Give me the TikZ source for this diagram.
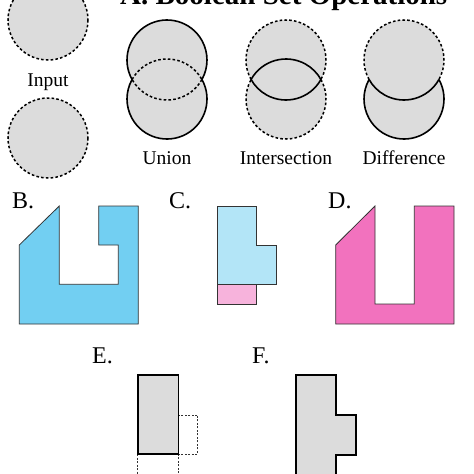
\documentclass[tikz,border=0pt]{standalone}
\usepackage{fontspec}
\setmainfont{Liberation Serif}
\definecolor{cgray}{HTML}{DCDCDC}
\definecolor{bblue}{HTML}{72CFF2}
\definecolor{lblue}{HTML}{B3E5F7}
\definecolor{lpink}{HTML}{F7B3DC}
\definecolor{dpink}{HTML}{F272BE}
\definecolor{edge}{HTML}{333333}
\begin{document}
\begin{tikzpicture}[x=1pt,y=-1pt,
  solidline/.style={line width=1.6pt,black},
  dashline/.style={line width=1.5pt,black,dash pattern=on 2.6pt off 2.2pt},
  lbl/.style={font=\fontsize{19.5}{20}\selectfont,anchor=base},
  letter/.style={font=\fontsize{24}{26}\selectfont,anchor=base west,inner sep=0pt},
  shapeB/.style={draw=edge,line width=0.8pt,fill=bblue},
  thick2/.style={draw=black,line width=1.6pt,fill=cgray},
  dbox/.style={draw=black!80,line width=0.9pt,dash pattern=on 2pt off 1.5pt}]
\useasboundingbox (0,0) rectangle (474,474);
\fill[white] (0,0) rectangle (474,474);
% title (cut off at top, as in the reference)
\node[font=\bfseries\fontsize{29}{30}\selectfont,anchor=base west,inner sep=0pt] (title) at (120,4) {A. Boolean Set Operations};
% inputs
\fill[cgray] (48,20) circle (40);
\draw[dashline] (48,20) circle (40);
\node[lbl] (input) at (48,86) {Input};
\fill[cgray] (48,138) circle (40);
\draw[dashline] (48,138) circle (40);
% union
\fill[cgray] (167,60) circle (40) (167,99) circle (40);
\draw[solidline] (167,60) ++(150.8:40) arc[start angle=150.8,end angle=389.2,radius=40];
\draw[solidline] (167,99) ++(-29.2:40) arc[start angle=-29.2,end angle=209.2,radius=40];
\draw[dashline] (167,60) ++(29.2:40) arc[start angle=29.2,end angle=150.8,radius=40];
\draw[dashline] (167,99) ++(209.2:40) arc[start angle=209.2,end angle=330.8,radius=40];
\node[lbl] (union) at (167,164) {Union};
% intersection
\fill[cgray] (286,60) circle (40) (286,99) circle (40);
\draw[dashline] (286,60) ++(150.8:40) arc[start angle=150.8,end angle=389.2,radius=40];
\draw[dashline] (286,99) ++(-29.2:40) arc[start angle=-29.2,end angle=209.2,radius=40];
\draw[solidline] (286,60) ++(29.2:40) arc[start angle=29.2,end angle=150.8,radius=40];
\draw[solidline] (286,99) ++(209.2:40) arc[start angle=209.2,end angle=330.8,radius=40];
\node[lbl] (inter) at (286,164) {Intersection};
% difference
\fill[cgray] (404,60) circle (40) (404,99) circle (40);
\draw[dashline] (404,60) ++(150.8:40) arc[start angle=150.8,end angle=389.2,radius=40];
\draw[solidline] (404,60) ++(29.2:40) arc[start angle=29.2,end angle=150.8,radius=40];
\draw[solidline] (404,99) ++(-29.2:40) arc[start angle=-29.2,end angle=209.2,radius=40];
\node[lbl] (diff) at (404,164) {Difference};
% letters
\node[letter] (B) at (12,208) {B.};
\node[letter] (C) at (169,208) {C.};
\node[letter] (D) at (328,208) {D.};
\node[letter] (E) at (92,363) {E.};
\node[letter] (F) at (252,363) {F.};
% shape B
\draw[shapeB] (19.3,245) -- (59.3,206) -- (59.3,284.3) -- (118.3,284.3) -- (118.3,245) -- (98.7,245) -- (98.7,206) -- (138.3,206) -- (138.3,324) -- (19.3,324) -- cycle;
% shape C
\draw[draw=edge,line width=0.8pt,fill=lblue] (217.3,206) -- (256.7,206) -- (256.7,245) -- (276,245) -- (276,284.3) -- (217.3,284.3) -- cycle;
\draw[draw=edge,line width=0.8pt,fill=lpink] (217.3,284.3) rectangle (256.7,304);
% shape D
\draw[draw=edge,line width=0.8pt,fill=dpink] (335.7,245) -- (375,206) -- (375,304) -- (414.3,304) -- (414.3,206) -- (454,206) -- (454,324) -- (335.7,324) -- cycle;
% shape E
\draw[dbox] (178.3,415) rectangle (197.7,454);
\draw[dbox] (137.7,454) rectangle (178.3,494);
\draw[thick2] (137.7,375) rectangle (178.3,454);
% shape F
\draw[thick2] (296,500) -- (296,375) -- (336,375) -- (336,415) -- (356,415) -- (356,455) -- (336,455) -- (336,500);
\end{tikzpicture}
\end{document}
